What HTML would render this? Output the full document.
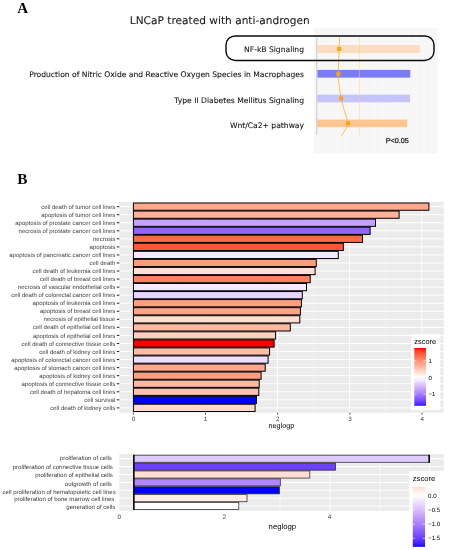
<!DOCTYPE html>
<html lang="en">
<head>
<meta charset="utf-8">
<title>Figure</title>
<style>
html,body{margin:0;padding:0;background:#fff;}
body{width:449px;height:550px;overflow:hidden;}
svg{display:block;}
text{text-rendering:geometricPrecision;}
.ser{font-family:"Liberation Serif",serif;font-weight:bold;}
.dv{font-family:"DejaVu Sans","Liberation Sans",sans-serif;}
.ls{font-family:"Liberation Sans",sans-serif;}
</style>
</head>
<body>
<svg width="449" height="550" viewBox="0 0 449 550">
<rect x="0" y="0" width="449" height="550" fill="#ffffff"/>
<g id="panelA">
<text class="ser" x="17.3" y="13" font-size="15" fill="#000">A</text>
<text class="dv" x="129.8" y="24.1" font-size="10.6" fill="#1a1a1a" stroke="#1a1a1a" stroke-width="0.08">LNCaP treated with anti-androgen</text>
<rect x="314" y="28" width="123.6" height="125.6" fill="#f7f7f7"/>
<line x1="325.85" y1="28" x2="325.85" y2="153.6" stroke="#f3f3f3" stroke-width="0.5"/>
<line x1="334.40" y1="28" x2="334.40" y2="153.6" stroke="#f3f3f3" stroke-width="0.5"/>
<line x1="342.95" y1="28" x2="342.95" y2="153.6" stroke="#f3f3f3" stroke-width="0.5"/>
<line x1="351.50" y1="28" x2="351.50" y2="153.6" stroke="#f3f3f3" stroke-width="0.5"/>
<line x1="360.05" y1="28" x2="360.05" y2="153.6" stroke="#f3f3f3" stroke-width="0.5"/>
<line x1="368.60" y1="28" x2="368.60" y2="153.6" stroke="#f3f3f3" stroke-width="0.5"/>
<line x1="377.15" y1="28" x2="377.15" y2="153.6" stroke="#f3f3f3" stroke-width="0.5"/>
<line x1="385.70" y1="28" x2="385.70" y2="153.6" stroke="#f3f3f3" stroke-width="0.5"/>
<line x1="394.25" y1="28" x2="394.25" y2="153.6" stroke="#f3f3f3" stroke-width="0.5"/>
<line x1="402.80" y1="28" x2="402.80" y2="153.6" stroke="#f3f3f3" stroke-width="0.5"/>
<line x1="411.35" y1="28" x2="411.35" y2="153.6" stroke="#f3f3f3" stroke-width="0.5"/>
<line x1="419.90" y1="28" x2="419.90" y2="153.6" stroke="#f3f3f3" stroke-width="0.5"/>
<line x1="428.45" y1="28" x2="428.45" y2="153.6" stroke="#f3f3f3" stroke-width="0.5"/>
<rect x="317.3" y="45.0" width="102.4" height="8.0" fill="#FCDDBF"/>
<rect x="317.3" y="69.9" width="93.0" height="7.7" fill="#7B7BF5"/>
<rect x="317.3" y="94.6" width="92.7" height="7.7" fill="#C4C4FA"/>
<rect x="317.3" y="119.6" width="89.9" height="7.6" fill="#FBC68F"/>
<line x1="316.8" y1="37.5" x2="316.8" y2="135" stroke="#c4c4c4" stroke-width="0.9"/>
<line x1="359.4" y1="37.5" x2="359.4" y2="135" stroke="#FFCE85" stroke-width="0.5"/>
<path d="M339.6 37.5 C339.5 41 339.3 45 339.2 49 C339 58 338.2 66 338.3 73.8 C338.5 82 339.8 91 341.2 98.5 C342.8 107 346.5 116 348.1 123.3 C347 128 344 132 341.4 135.6" fill="none" stroke="#FFB020" stroke-width="0.8"/>
<rect x="337.2" y="47.0" width="4" height="4" fill="#FFA114"/>
<rect x="336.3" y="71.8" width="4" height="4" fill="#FFA114"/>
<rect x="339.2" y="96.5" width="4" height="4" fill="#FFA114"/>
<rect x="346.1" y="121.3" width="4" height="4" fill="#FFA114"/>
<rect x="226" y="35.9" width="208" height="24.6" rx="9.2" ry="9.2" fill="none" stroke="#0a0a0a" stroke-width="1.45"/>
<text class="dv" x="304" y="51.7" font-size="7.6" text-anchor="end" fill="#111" stroke="#111" stroke-width="0.08">NF-kB Signaling</text>
<text class="dv" x="304" y="77.1" font-size="7.6" text-anchor="end" fill="#111" stroke="#111" stroke-width="0.08">Production of Nitric Oxide and Reactive Oxygen Species in Macrophages</text>
<text class="dv" x="304" y="102.5" font-size="7.6" text-anchor="end" fill="#111" stroke="#111" stroke-width="0.08">Type II Diabetes Mellitus Signaling</text>
<text class="dv" x="304" y="127.9" font-size="7.6" text-anchor="end" fill="#111" stroke="#111" stroke-width="0.08">Wnt/Ca2+ pathway</text>
<text class="ls" x="385.8" y="142.5" font-size="7.2" fill="#222" stroke="#222" stroke-width="0.25">P&lt;0.05</text>
</g>
<g id="panelB1">
<text class="ser" x="17.3" y="183.5" font-size="15.3" fill="#000">B</text>
<rect x="119.3" y="201.8" width="324.4" height="210.9" fill="#EBEBEB"/>
<line x1="169.10" y1="201.8" x2="169.10" y2="412.7" stroke="#f7f7f7" stroke-width="0.6"/>
<line x1="241.30" y1="201.8" x2="241.30" y2="412.7" stroke="#f7f7f7" stroke-width="0.6"/>
<line x1="313.50" y1="201.8" x2="313.50" y2="412.7" stroke="#f7f7f7" stroke-width="0.6"/>
<line x1="385.70" y1="201.8" x2="385.70" y2="412.7" stroke="#f7f7f7" stroke-width="0.6"/>
<line x1="133.00" y1="201.8" x2="133.00" y2="412.7" stroke="#ffffff" stroke-width="1.0"/>
<line x1="205.20" y1="201.8" x2="205.20" y2="412.7" stroke="#ffffff" stroke-width="1.0"/>
<line x1="277.40" y1="201.8" x2="277.40" y2="412.7" stroke="#ffffff" stroke-width="1.0"/>
<line x1="349.60" y1="201.8" x2="349.60" y2="412.7" stroke="#ffffff" stroke-width="1.0"/>
<line x1="421.80" y1="201.8" x2="421.80" y2="412.7" stroke="#ffffff" stroke-width="1.0"/>
<line x1="119.3" y1="206.63" x2="443.7" y2="206.63" stroke="#ffffff" stroke-width="1.0"/>
<line x1="119.3" y1="214.68" x2="443.7" y2="214.68" stroke="#ffffff" stroke-width="1.0"/>
<line x1="119.3" y1="222.73" x2="443.7" y2="222.73" stroke="#ffffff" stroke-width="1.0"/>
<line x1="119.3" y1="230.78" x2="443.7" y2="230.78" stroke="#ffffff" stroke-width="1.0"/>
<line x1="119.3" y1="238.83" x2="443.7" y2="238.83" stroke="#ffffff" stroke-width="1.0"/>
<line x1="119.3" y1="246.88" x2="443.7" y2="246.88" stroke="#ffffff" stroke-width="1.0"/>
<line x1="119.3" y1="254.93" x2="443.7" y2="254.93" stroke="#ffffff" stroke-width="1.0"/>
<line x1="119.3" y1="262.98" x2="443.7" y2="262.98" stroke="#ffffff" stroke-width="1.0"/>
<line x1="119.3" y1="271.03" x2="443.7" y2="271.03" stroke="#ffffff" stroke-width="1.0"/>
<line x1="119.3" y1="279.08" x2="443.7" y2="279.08" stroke="#ffffff" stroke-width="1.0"/>
<line x1="119.3" y1="287.13" x2="443.7" y2="287.13" stroke="#ffffff" stroke-width="1.0"/>
<line x1="119.3" y1="295.18" x2="443.7" y2="295.18" stroke="#ffffff" stroke-width="1.0"/>
<line x1="119.3" y1="303.23" x2="443.7" y2="303.23" stroke="#ffffff" stroke-width="1.0"/>
<line x1="119.3" y1="311.27" x2="443.7" y2="311.27" stroke="#ffffff" stroke-width="1.0"/>
<line x1="119.3" y1="319.32" x2="443.7" y2="319.32" stroke="#ffffff" stroke-width="1.0"/>
<line x1="119.3" y1="327.37" x2="443.7" y2="327.37" stroke="#ffffff" stroke-width="1.0"/>
<line x1="119.3" y1="335.42" x2="443.7" y2="335.42" stroke="#ffffff" stroke-width="1.0"/>
<line x1="119.3" y1="343.47" x2="443.7" y2="343.47" stroke="#ffffff" stroke-width="1.0"/>
<line x1="119.3" y1="351.52" x2="443.7" y2="351.52" stroke="#ffffff" stroke-width="1.0"/>
<line x1="119.3" y1="359.57" x2="443.7" y2="359.57" stroke="#ffffff" stroke-width="1.0"/>
<line x1="119.3" y1="367.62" x2="443.7" y2="367.62" stroke="#ffffff" stroke-width="1.0"/>
<line x1="119.3" y1="375.67" x2="443.7" y2="375.67" stroke="#ffffff" stroke-width="1.0"/>
<line x1="119.3" y1="383.72" x2="443.7" y2="383.72" stroke="#ffffff" stroke-width="1.0"/>
<line x1="119.3" y1="391.77" x2="443.7" y2="391.77" stroke="#ffffff" stroke-width="1.0"/>
<line x1="119.3" y1="399.82" x2="443.7" y2="399.82" stroke="#ffffff" stroke-width="1.0"/>
<line x1="119.3" y1="407.87" x2="443.7" y2="407.87" stroke="#ffffff" stroke-width="1.0"/>
<rect x="133.40" y="203.01" width="295.50" height="7.24" fill="#FFA88D" stroke="#000" stroke-width="1"/>
<rect x="133.40" y="211.06" width="265.70" height="7.24" fill="#FFB299" stroke="#000" stroke-width="1"/>
<rect x="133.40" y="219.11" width="242.10" height="7.24" fill="#C4A2FF" stroke="#000" stroke-width="1"/>
<rect x="133.40" y="227.16" width="236.70" height="7.24" fill="#9164FF" stroke="#000" stroke-width="1"/>
<rect x="133.40" y="235.21" width="229.10" height="7.24" fill="#FF6846" stroke="#000" stroke-width="1"/>
<rect x="133.40" y="243.26" width="209.90" height="7.24" fill="#FF5636" stroke="#000" stroke-width="1"/>
<rect x="133.40" y="251.31" width="204.90" height="7.24" fill="#F3EAFF" stroke="#000" stroke-width="1"/>
<rect x="133.40" y="259.35" width="182.90" height="7.24" fill="#FF9A7C" stroke="#000" stroke-width="1"/>
<rect x="133.40" y="267.40" width="181.70" height="7.24" fill="#FFE0D6" stroke="#000" stroke-width="1"/>
<rect x="133.40" y="275.45" width="176.80" height="7.24" fill="#FF8160" stroke="#000" stroke-width="1"/>
<rect x="133.40" y="283.50" width="173.10" height="7.24" fill="#F3EAFF" stroke="#000" stroke-width="1"/>
<rect x="133.40" y="291.55" width="168.90" height="7.24" fill="#E6D5FF" stroke="#000" stroke-width="1"/>
<rect x="133.40" y="299.60" width="168.00" height="7.24" fill="#FF9E81" stroke="#000" stroke-width="1"/>
<rect x="133.40" y="307.65" width="167.00" height="7.24" fill="#FFA488" stroke="#000" stroke-width="1"/>
<rect x="133.40" y="315.70" width="166.40" height="7.24" fill="#FFDDD0" stroke="#000" stroke-width="1"/>
<rect x="133.40" y="323.75" width="156.90" height="7.24" fill="#FFB8A1" stroke="#000" stroke-width="1"/>
<rect x="133.40" y="331.80" width="142.20" height="7.24" fill="#FFCFBF" stroke="#000" stroke-width="1"/>
<rect x="133.40" y="339.85" width="140.70" height="7.24" fill="#FF0000" stroke="#000" stroke-width="1"/>
<rect x="133.40" y="347.90" width="136.20" height="7.24" fill="#FFBCA6" stroke="#000" stroke-width="1"/>
<rect x="133.40" y="355.95" width="134.70" height="7.24" fill="#EDE0FF" stroke="#000" stroke-width="1"/>
<rect x="133.40" y="364.00" width="131.80" height="7.24" fill="#FFA88D" stroke="#000" stroke-width="1"/>
<rect x="133.40" y="372.05" width="127.70" height="7.24" fill="#FF9E81" stroke="#000" stroke-width="1"/>
<rect x="133.40" y="380.10" width="125.80" height="7.24" fill="#FFB8A1" stroke="#000" stroke-width="1"/>
<rect x="133.40" y="388.15" width="125.40" height="7.24" fill="#FFC2AD" stroke="#000" stroke-width="1"/>
<rect x="133.40" y="396.20" width="123.10" height="7.24" fill="#0000FF" stroke="#000" stroke-width="1"/>
<rect x="133.40" y="404.25" width="121.70" height="7.24" fill="#FFD9CB" stroke="#000" stroke-width="1"/>
<line x1="116.8" y1="206.63" x2="119.3" y2="206.63" stroke="#333" stroke-width="1.1"/>
<text class="ls" x="115.3" y="208.73" font-size="6" text-anchor="end" fill="#3c3c3c">cell death of tumor cell lines</text>
<line x1="116.8" y1="214.68" x2="119.3" y2="214.68" stroke="#333" stroke-width="1.1"/>
<text class="ls" x="115.3" y="216.78" font-size="6" text-anchor="end" fill="#3c3c3c">apoptosis of tumor cell lines</text>
<line x1="116.8" y1="222.73" x2="119.3" y2="222.73" stroke="#333" stroke-width="1.1"/>
<text class="ls" x="115.3" y="224.83" font-size="6" text-anchor="end" fill="#3c3c3c">apoptosis of prostate cancer cell lines</text>
<line x1="116.8" y1="230.78" x2="119.3" y2="230.78" stroke="#333" stroke-width="1.1"/>
<text class="ls" x="115.3" y="232.88" font-size="6" text-anchor="end" fill="#3c3c3c">necrosis of prostate cancer cell lines</text>
<line x1="116.8" y1="238.83" x2="119.3" y2="238.83" stroke="#333" stroke-width="1.1"/>
<text class="ls" x="115.3" y="240.93" font-size="6" text-anchor="end" fill="#3c3c3c">necrosis</text>
<line x1="116.8" y1="246.88" x2="119.3" y2="246.88" stroke="#333" stroke-width="1.1"/>
<text class="ls" x="115.3" y="248.98" font-size="6" text-anchor="end" fill="#3c3c3c">apoptosis</text>
<line x1="116.8" y1="254.93" x2="119.3" y2="254.93" stroke="#333" stroke-width="1.1"/>
<text class="ls" x="115.3" y="257.03" font-size="6" text-anchor="end" fill="#3c3c3c">apoptosis of pancreatic cancer cell lines</text>
<line x1="116.8" y1="262.98" x2="119.3" y2="262.98" stroke="#333" stroke-width="1.1"/>
<text class="ls" x="115.3" y="265.08" font-size="6" text-anchor="end" fill="#3c3c3c">cell death</text>
<line x1="116.8" y1="271.03" x2="119.3" y2="271.03" stroke="#333" stroke-width="1.1"/>
<text class="ls" x="115.3" y="273.13" font-size="6" text-anchor="end" fill="#3c3c3c">cell death of leukemia cell lines</text>
<line x1="116.8" y1="279.08" x2="119.3" y2="279.08" stroke="#333" stroke-width="1.1"/>
<text class="ls" x="115.3" y="281.18" font-size="6" text-anchor="end" fill="#3c3c3c">cell death of breast cell lines</text>
<line x1="116.8" y1="287.13" x2="119.3" y2="287.13" stroke="#333" stroke-width="1.1"/>
<text class="ls" x="115.3" y="289.23" font-size="6" text-anchor="end" fill="#3c3c3c">necrosis of vascular endothelial cells</text>
<line x1="116.8" y1="295.18" x2="119.3" y2="295.18" stroke="#333" stroke-width="1.1"/>
<text class="ls" x="115.3" y="297.28" font-size="6" text-anchor="end" fill="#3c3c3c">cell death of colorectal cancer cell lines</text>
<line x1="116.8" y1="303.23" x2="119.3" y2="303.23" stroke="#333" stroke-width="1.1"/>
<text class="ls" x="115.3" y="305.33" font-size="6" text-anchor="end" fill="#3c3c3c">apoptosis of leukemia cell lines</text>
<line x1="116.8" y1="311.27" x2="119.3" y2="311.27" stroke="#333" stroke-width="1.1"/>
<text class="ls" x="115.3" y="313.37" font-size="6" text-anchor="end" fill="#3c3c3c">apoptosis of breast cell lines</text>
<line x1="116.8" y1="319.32" x2="119.3" y2="319.32" stroke="#333" stroke-width="1.1"/>
<text class="ls" x="115.3" y="321.42" font-size="6" text-anchor="end" fill="#3c3c3c">necrosis of epithelial tissue</text>
<line x1="116.8" y1="327.37" x2="119.3" y2="327.37" stroke="#333" stroke-width="1.1"/>
<text class="ls" x="115.3" y="329.47" font-size="6" text-anchor="end" fill="#3c3c3c">cell death of epithelial cell lines</text>
<line x1="116.8" y1="335.42" x2="119.3" y2="335.42" stroke="#333" stroke-width="1.1"/>
<text class="ls" x="115.3" y="337.52" font-size="6" text-anchor="end" fill="#3c3c3c">apoptosis of epithelial cell lines</text>
<line x1="116.8" y1="343.47" x2="119.3" y2="343.47" stroke="#333" stroke-width="1.1"/>
<text class="ls" x="115.3" y="345.57" font-size="6" text-anchor="end" fill="#3c3c3c">cell death of connective tissue cells</text>
<line x1="116.8" y1="351.52" x2="119.3" y2="351.52" stroke="#333" stroke-width="1.1"/>
<text class="ls" x="115.3" y="353.62" font-size="6" text-anchor="end" fill="#3c3c3c">cell death of kidney cell lines</text>
<line x1="116.8" y1="359.57" x2="119.3" y2="359.57" stroke="#333" stroke-width="1.1"/>
<text class="ls" x="115.3" y="361.67" font-size="6" text-anchor="end" fill="#3c3c3c">apoptosis of colorectal cancer cell lines</text>
<line x1="116.8" y1="367.62" x2="119.3" y2="367.62" stroke="#333" stroke-width="1.1"/>
<text class="ls" x="115.3" y="369.72" font-size="6" text-anchor="end" fill="#3c3c3c">apoptosis of stomach cancer cell lines</text>
<line x1="116.8" y1="375.67" x2="119.3" y2="375.67" stroke="#333" stroke-width="1.1"/>
<text class="ls" x="115.3" y="377.77" font-size="6" text-anchor="end" fill="#3c3c3c">apoptosis of kidney cell lines</text>
<line x1="116.8" y1="383.72" x2="119.3" y2="383.72" stroke="#333" stroke-width="1.1"/>
<text class="ls" x="115.3" y="385.82" font-size="6" text-anchor="end" fill="#3c3c3c">apoptosis of connective tissue cells</text>
<line x1="116.8" y1="391.77" x2="119.3" y2="391.77" stroke="#333" stroke-width="1.1"/>
<text class="ls" x="115.3" y="393.87" font-size="6" text-anchor="end" fill="#3c3c3c">cell death of hepatoma cell lines</text>
<line x1="116.8" y1="399.82" x2="119.3" y2="399.82" stroke="#333" stroke-width="1.1"/>
<text class="ls" x="115.3" y="401.92" font-size="6" text-anchor="end" fill="#3c3c3c">cell survival</text>
<line x1="116.8" y1="407.87" x2="119.3" y2="407.87" stroke="#333" stroke-width="1.1"/>
<text class="ls" x="115.3" y="409.97" font-size="6" text-anchor="end" fill="#3c3c3c">cell death of kidney cells</text>
<line x1="133.30" y1="412.7" x2="133.30" y2="414.6" stroke="#333" stroke-width="0.9"/>
<text class="ls" x="133.40" y="420.7" font-size="6.3" text-anchor="middle" fill="#444">0</text>
<line x1="205.50" y1="412.7" x2="205.50" y2="414.6" stroke="#333" stroke-width="0.9"/>
<text class="ls" x="205.60" y="420.7" font-size="6.3" text-anchor="middle" fill="#444">1</text>
<line x1="277.70" y1="412.7" x2="277.70" y2="414.6" stroke="#333" stroke-width="0.9"/>
<text class="ls" x="277.80" y="420.7" font-size="6.3" text-anchor="middle" fill="#444">2</text>
<line x1="349.90" y1="412.7" x2="349.90" y2="414.6" stroke="#333" stroke-width="0.9"/>
<text class="ls" x="350.00" y="420.7" font-size="6.3" text-anchor="middle" fill="#444">3</text>
<line x1="422.10" y1="412.7" x2="422.10" y2="414.6" stroke="#333" stroke-width="0.9"/>
<text class="ls" x="422.20" y="420.7" font-size="6.3" text-anchor="middle" fill="#444">4</text>
<text class="ls" x="281.4" y="428" font-size="7.2" text-anchor="middle" fill="#000">neglogp</text>
<defs><linearGradient id="g1" x1="0" y1="0" x2="0" y2="1">
<stop offset="0.0000" stop-color="#FF0000"/>
<stop offset="0.0417" stop-color="#FF371D"/>
<stop offset="0.0833" stop-color="#FF5132"/>
<stop offset="0.1250" stop-color="#FF6645"/>
<stop offset="0.1667" stop-color="#FF7958"/>
<stop offset="0.2083" stop-color="#FF8B6B"/>
<stop offset="0.2500" stop-color="#FF9C7F"/>
<stop offset="0.2917" stop-color="#FFAC93"/>
<stop offset="0.3333" stop-color="#FFBCA7"/>
<stop offset="0.3750" stop-color="#FFCCBB"/>
<stop offset="0.4167" stop-color="#FFDCD0"/>
<stop offset="0.4583" stop-color="#FFECE5"/>
<stop offset="0.5000" stop-color="#FFFBFA"/>
<stop offset="0.5417" stop-color="#F7F0FF"/>
<stop offset="0.5833" stop-color="#ECDDFF"/>
<stop offset="0.6250" stop-color="#E0CAFF"/>
<stop offset="0.6667" stop-color="#D3B7FF"/>
<stop offset="0.7083" stop-color="#C6A5FF"/>
<stop offset="0.7500" stop-color="#B892FF"/>
<stop offset="0.7917" stop-color="#A97FFF"/>
<stop offset="0.8333" stop-color="#996DFF"/>
<stop offset="0.8750" stop-color="#875AFF"/>
<stop offset="0.9167" stop-color="#7246FF"/>
<stop offset="0.9583" stop-color="#5831FF"/>
<stop offset="1.0000" stop-color="#3116FF"/>
</linearGradient></defs>
<rect x="411" y="334.2" width="29.3" height="75.7" fill="#ffffff"/>
<text class="ls" x="414.3" y="343.6" font-size="7.4" fill="#000">zscore</text>
<rect x="414.3" y="348" width="11.7" height="57.8" fill="url(#g1)"/>
<line x1="414.3" y1="360.8" x2="416.6" y2="360.8" stroke="#fff" stroke-width="0.5"/>
<line x1="423.7" y1="360.8" x2="426" y2="360.8" stroke="#fff" stroke-width="0.5"/>
<text class="ls" x="428.6" y="362.9" font-size="6" fill="#000">1</text>
<line x1="414.3" y1="377.4" x2="416.6" y2="377.4" stroke="#fff" stroke-width="0.5"/>
<line x1="423.7" y1="377.4" x2="426" y2="377.4" stroke="#fff" stroke-width="0.5"/>
<text class="ls" x="428.6" y="379.5" font-size="6" fill="#000">0</text>
<line x1="414.3" y1="394.2" x2="416.6" y2="394.2" stroke="#fff" stroke-width="0.5"/>
<line x1="423.7" y1="394.2" x2="426" y2="394.2" stroke="#fff" stroke-width="0.5"/>
<text class="ls" x="428.6" y="396.3" font-size="6" fill="#000">−1</text>
</g>
<g id="panelB2">
<rect x="119.4" y="454.0" width="324.4" height="56.8" fill="#EBEBEB"/>
<line x1="180" y1="454.0" x2="180" y2="510.8" stroke="#fafafa" stroke-width="0.8"/>
<line x1="280" y1="454.0" x2="280" y2="510.8" stroke="#fafafa" stroke-width="0.8"/>
<line x1="380" y1="454.0" x2="380" y2="510.8" stroke="#fafafa" stroke-width="0.8"/>
<line x1="230" y1="454.0" x2="230" y2="510.8" stroke="#ffffff" stroke-width="1.0"/>
<line x1="330" y1="454.0" x2="330" y2="510.8" stroke="#ffffff" stroke-width="1.0"/>
<line x1="429.6" y1="454.0" x2="429.6" y2="510.8" stroke="#ffffff" stroke-width="1.0"/>
<line x1="119.4" y1="458.73" x2="443.8" y2="458.73" stroke="#ffffff" stroke-width="1.0"/>
<line x1="119.4" y1="466.62" x2="443.8" y2="466.62" stroke="#ffffff" stroke-width="1.0"/>
<line x1="119.4" y1="474.51" x2="443.8" y2="474.51" stroke="#ffffff" stroke-width="1.0"/>
<line x1="119.4" y1="482.40" x2="443.8" y2="482.40" stroke="#ffffff" stroke-width="1.0"/>
<line x1="119.4" y1="490.29" x2="443.8" y2="490.29" stroke="#ffffff" stroke-width="1.0"/>
<line x1="119.4" y1="498.18" x2="443.8" y2="498.18" stroke="#ffffff" stroke-width="1.0"/>
<line x1="119.4" y1="506.07" x2="443.8" y2="506.07" stroke="#ffffff" stroke-width="1.0"/>
<rect x="133.90" y="455.18" width="295.70" height="7.10" fill="#E0CBFF" stroke="#2a2a2a" stroke-width="0.75"/>
<rect x="133.90" y="463.07" width="201.70" height="7.10" fill="#6B40FF" stroke="#2a2a2a" stroke-width="0.75"/>
<rect x="133.90" y="470.96" width="175.90" height="7.10" fill="#FFDFD3" stroke="#2a2a2a" stroke-width="0.75"/>
<rect x="133.90" y="478.85" width="146.40" height="7.10" fill="#AF87FF" stroke="#2a2a2a" stroke-width="0.75"/>
<rect x="133.90" y="486.74" width="145.50" height="7.10" fill="#0000FF" stroke="#2a2a2a" stroke-width="0.75"/>
<rect x="133.90" y="494.63" width="113.10" height="7.10" fill="#FFECE5" stroke="#2a2a2a" stroke-width="0.75"/>
<rect x="133.90" y="502.52" width="104.90" height="7.10" fill="#FFFFFF" stroke="#2a2a2a" stroke-width="0.75"/>
<line x1="133.8" y1="454.78" x2="133.8" y2="510.02" stroke="#000" stroke-width="1.4"/>
<line x1="429.2" y1="454.78" x2="429.2" y2="462.68" stroke="#000" stroke-width="1.6"/>
<text class="ls" x="111.9" y="459.80" font-size="6.05" text-anchor="end" fill="#3c3c3c">proliferation of cells</text>
<text class="ls" x="112.9" y="468.50" font-size="6.05" text-anchor="end" fill="#3c3c3c">proliferation of connective tissue cells</text>
<text class="ls" x="112.9" y="476.90" font-size="6.05" text-anchor="end" fill="#3c3c3c">proliferation of epithelial cells</text>
<text class="ls" x="111.9" y="485.50" font-size="6.05" text-anchor="end" fill="#3c3c3c">outgrowth of cells</text>
<text class="ls" x="115.7" y="493.80" font-size="6.05" text-anchor="end" fill="#3c3c3c">cell proliferation of hematopoietic cell lines</text>
<text class="ls" x="114.4" y="501.10" font-size="6.05" text-anchor="end" fill="#3c3c3c">proliferation of bone marrow cell lines</text>
<text class="ls" x="115.4" y="508.60" font-size="6.05" text-anchor="end" fill="#3c3c3c">generation of cells</text>
<text class="ls" x="119.2" y="518.9" font-size="6.4" text-anchor="middle" fill="#444">0</text>
<text class="ls" x="224.4" y="518.9" font-size="6.4" text-anchor="middle" fill="#444">2</text>
<text class="ls" x="329.6" y="518.9" font-size="6.4" text-anchor="middle" fill="#444">4</text>
<text class="ls" x="282.3" y="528.5" font-size="7.7" text-anchor="middle" fill="#000">neglogp</text>
<defs><linearGradient id="g2" x1="0" y1="0" x2="0" y2="1">
<stop offset="0.0000" stop-color="#FFDED2"/>
<stop offset="0.0417" stop-color="#FFE7DF"/>
<stop offset="0.0833" stop-color="#FFF1EC"/>
<stop offset="0.1250" stop-color="#FFFAF8"/>
<stop offset="0.1667" stop-color="#FCFAFF"/>
<stop offset="0.2083" stop-color="#F5EEFF"/>
<stop offset="0.2500" stop-color="#EFE3FF"/>
<stop offset="0.2917" stop-color="#E8D7FF"/>
<stop offset="0.3333" stop-color="#E1CCFF"/>
<stop offset="0.3750" stop-color="#D9C0FF"/>
<stop offset="0.4167" stop-color="#D2B5FF"/>
<stop offset="0.4583" stop-color="#CAAAFF"/>
<stop offset="0.5000" stop-color="#C29FFF"/>
<stop offset="0.5417" stop-color="#BA94FF"/>
<stop offset="0.5833" stop-color="#B189FF"/>
<stop offset="0.6250" stop-color="#A87DFF"/>
<stop offset="0.6667" stop-color="#9E72FF"/>
<stop offset="0.7083" stop-color="#9467FF"/>
<stop offset="0.7500" stop-color="#895CFF"/>
<stop offset="0.7917" stop-color="#7D50FF"/>
<stop offset="0.8333" stop-color="#7044FF"/>
<stop offset="0.8750" stop-color="#6138FF"/>
<stop offset="0.9167" stop-color="#4F2AFF"/>
<stop offset="0.9583" stop-color="#371AFF"/>
<stop offset="1.0000" stop-color="#0000FF"/>
</linearGradient></defs>
<rect x="409.2" y="471.1" width="39.8" height="78.9" fill="#ffffff"/>
<text class="ls" x="412.8" y="481.3" font-size="7.6" fill="#000">zscore</text>
<rect x="412.8" y="486.9" width="12.2" height="59.9" fill="url(#g2)"/>
<line x1="412.8" y1="495.8" x2="415.2" y2="495.8" stroke="#fff" stroke-width="0.5"/>
<line x1="422.6" y1="495.8" x2="425" y2="495.8" stroke="#fff" stroke-width="0.5"/>
<text class="ls" x="428.1" y="497.9" font-size="6.1" fill="#000">0.0</text>
<line x1="412.8" y1="509.9" x2="415.2" y2="509.9" stroke="#fff" stroke-width="0.5"/>
<line x1="422.6" y1="509.9" x2="425" y2="509.9" stroke="#fff" stroke-width="0.5"/>
<text class="ls" x="428.1" y="512.0" font-size="6.1" fill="#000">−0.5</text>
<line x1="412.8" y1="524.2" x2="415.2" y2="524.2" stroke="#fff" stroke-width="0.5"/>
<line x1="422.6" y1="524.2" x2="425" y2="524.2" stroke="#fff" stroke-width="0.5"/>
<text class="ls" x="428.1" y="526.3" font-size="6.1" fill="#000">−1.0</text>
<line x1="412.8" y1="538.3" x2="415.2" y2="538.3" stroke="#fff" stroke-width="0.5"/>
<line x1="422.6" y1="538.3" x2="425" y2="538.3" stroke="#fff" stroke-width="0.5"/>
<text class="ls" x="428.1" y="540.4" font-size="6.1" fill="#000">−1.5</text>
</g>
</svg>
</body>
</html>
